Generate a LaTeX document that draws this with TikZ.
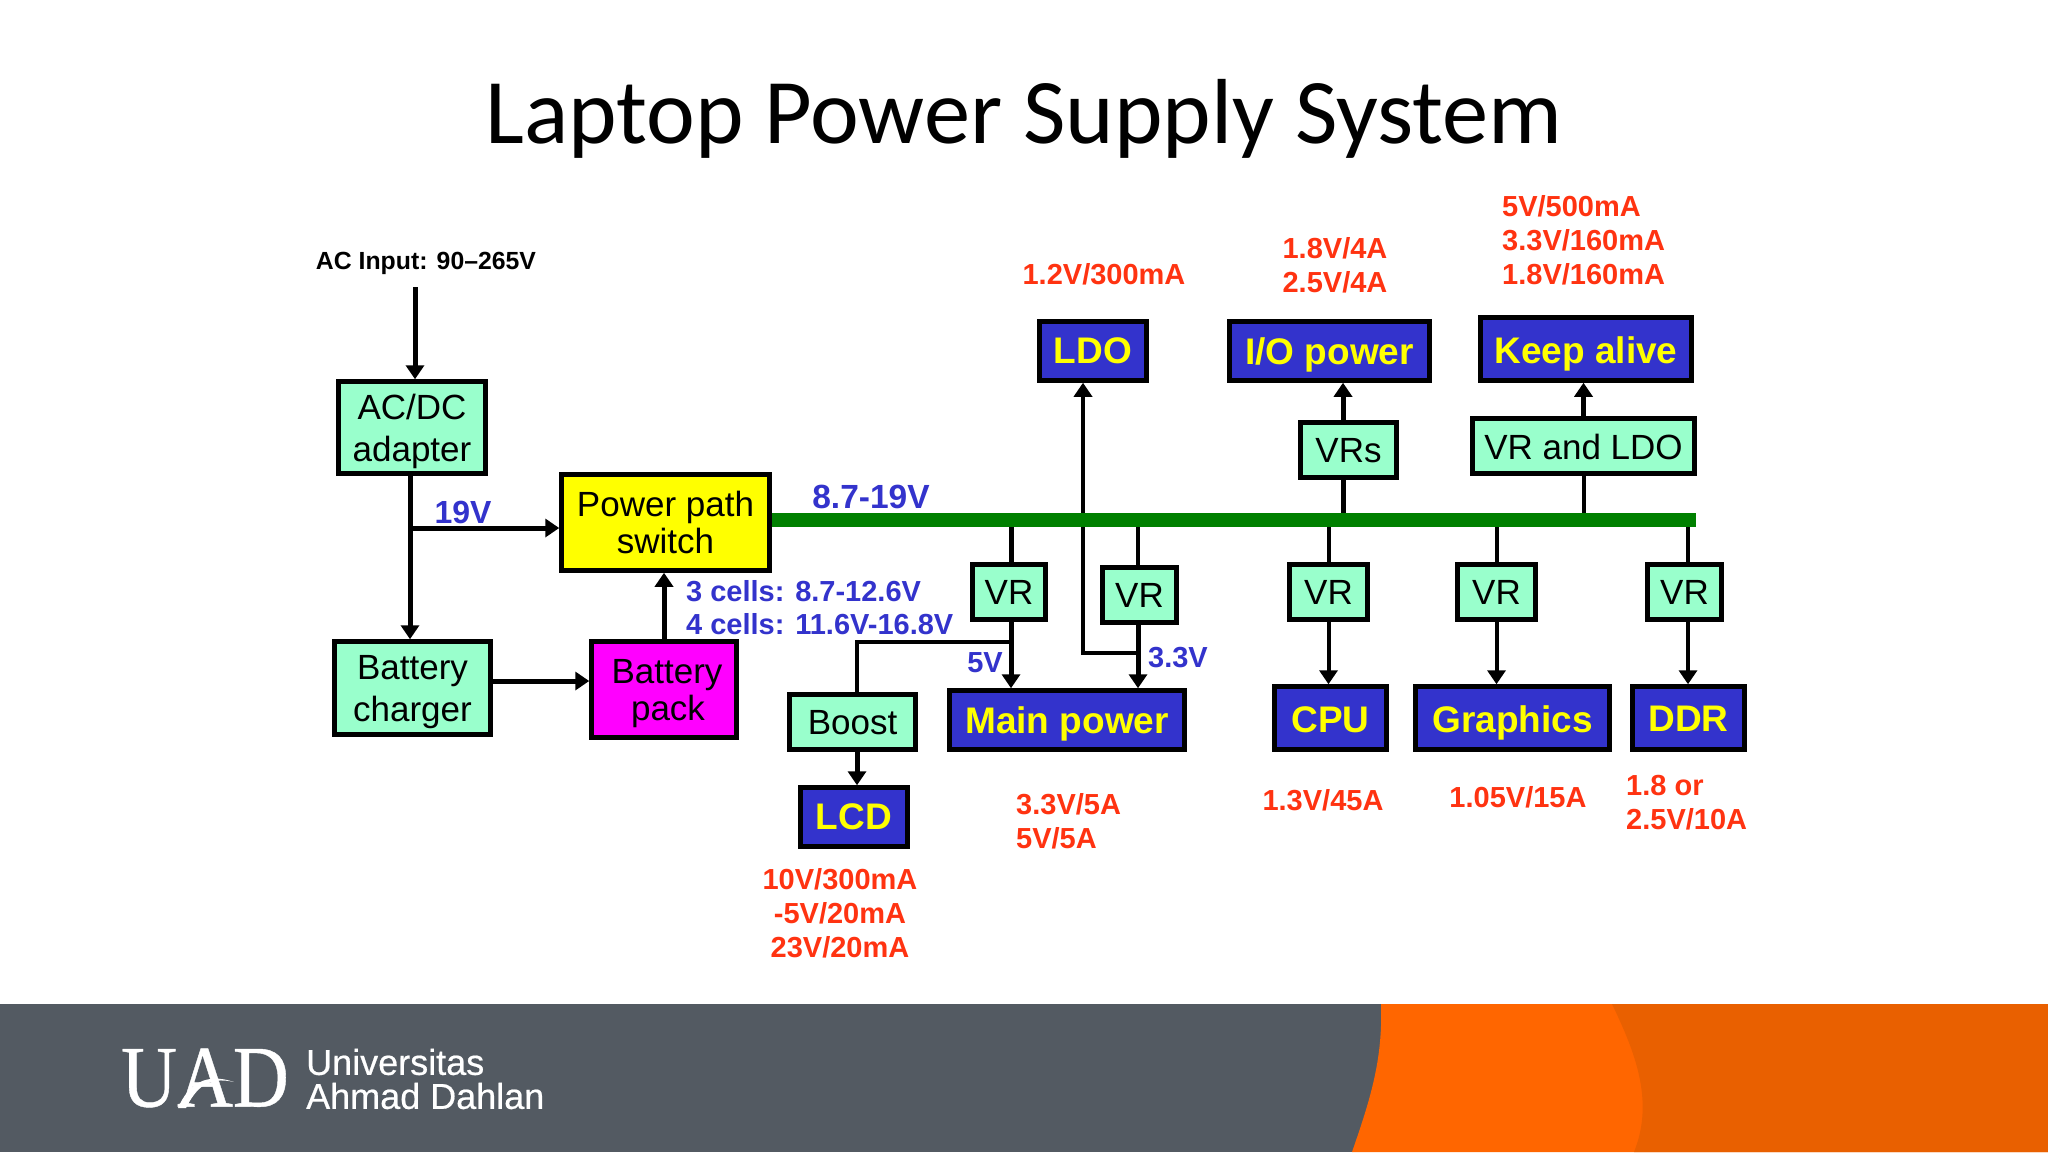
\documentclass[tikz,border=0pt]{standalone}
\usepackage{fontspec}
\setmainfont{Liberation Sans}
\newfontfamily\titlefont{Carlito}
\newfontfamily\logofont[FakeBold=0.5]{Liberation Serif}
\newfontfamily\unifont[FakeBold=0.5]{Liberation Sans}
\usetikzlibrary{arrows.meta}
\definecolor{aquabox}{HTML}{99FFCC}
\definecolor{bluebox}{HTML}{3333CC}
\definecolor{yellowbox}{HTML}{FFFF00}
\definecolor{magentabox}{HTML}{FF00FF}
\definecolor{redlabel}{HTML}{FF3311}
\definecolor{buscol}{HTML}{008000}
\definecolor{bandgrey}{HTML}{535A62}
\definecolor{orangeA}{HTML}{FF6600}
\definecolor{orangeB}{HTML}{E96000}
\tikzset{
  x=1pt,y=-1pt,
  blockbase/.style={draw=black,line width=4.5pt,inner sep=0pt,align=center,text depth=0pt},
  aqua/.style={blockbase,fill=aquabox,text=black,font=\fontsize{35}{42}\selectfont},
  power/.style={blockbase,font=\fontsize{35}{37}\selectfont,text=black},
  load/.style={blockbase,fill=bluebox,text=yellowbox,font=\bfseries\fontsize{37}{42}\selectfont},
  wire/.style={draw=black,line width=5pt},
  thinwire/.style={draw=black,line width=4pt},
  arrowed/.style={-{Triangle[length=14pt,width=18pt]}},
  redtxt/.style={text=redlabel,inner sep=0pt,font=\bfseries\fontsize{29}{34}\selectfont},
  bluetxt/.style={text=bluebox,inner sep=0pt,font=\bfseries\fontsize{29}{33}\selectfont},
}
\begin{document}
\begin{tikzpicture}
\useasboundingbox (0,0) rectangle (2048,1152);
% footer
\fill[bandgrey] (0,1004) rectangle (2048,1152);
\fill[orangeA] (1381,1004) .. controls (1383,1060) and (1370,1100) .. (1352,1152) -- (2048,1152) -- (2048,1004) -- cycle;
\fill[orangeB] (1612,1004) .. controls (1634,1050) and (1655,1100) .. (1634,1152) -- (2048,1152) -- (2048,1004) -- cycle;
\node[text=white,inner sep=0pt,font=\logofont\fontsize{88}{88}\selectfont,xscale=0.88] (uad) at (205,1078) {UAD};
\fill[white] (178,1108) .. controls (188,1085) and (205,1072) .. (234,1082) .. controls (208,1076) and (196,1088) .. (186,1108) -- cycle;
\node[text=white,inner sep=0pt,align=left,anchor=west,font=\unifont\fontsize{36}{34}\selectfont] (uni) at (306,1079) {Universitas\\Ahmad Dahlan};
% title
\node[inner sep=0pt,font=\titlefont\fontsize{92.4}{92}\selectfont] (title) at (1024,119) {Laptop Power Supply System};
% boxes
\node[aqua,minimum width=147pt,minimum height=92pt] (acdc) at (412,427.5) {AC/DC\\adapter};
\node[power,fill=yellowbox,minimum width=208pt,minimum height=96pt] (psw) at (665.5,522.5) {Power path\\switch};
\node[aqua,minimum width=156pt,minimum height=93pt] (charger) at (412.5,688) {Battery\\charger};
\node[power,fill=magentabox,minimum width=145pt,minimum height=96pt] (pack) at (664,689.5) {\hspace*{6pt}Battery\\\hspace*{8pt}pack};
\node[aqua,minimum width=126pt,minimum height=55pt] (boost) at (852.5,722) {Boost};
\node[load,minimum width=235pt,minimum height=59pt] (main) at (1067,720) {Main power};
\node[load,minimum width=107pt,minimum height=59pt] (lcd) at (854,817) {LCD};
\node[aqua,minimum width=73pt,minimum height=55pt] (vra) at (1009,592) {VR};
\node[aqua,minimum width=74pt,minimum height=55pt] (vrb) at (1139.5,595) {VR};
\node[load,minimum width=107pt,minimum height=59pt] (ldo) at (1093,351) {LDO};
\node[load,minimum width=200pt,minimum height=59pt] (io) at (1329.5,351) {I/O power};
\node[load,minimum width=211pt,minimum height=63pt] (keep) at (1586,349) {\raisebox{-2.5pt}{Keep alive}};
\node[aqua,minimum width=96pt,minimum height=55pt] (vrs) at (1348.5,450) {VRs};
\node[aqua,minimum width=222pt,minimum height=55pt] (vrldo) at (1583.5,446) {\raisebox{-2.5pt}{VR and LDO}};
\node[aqua,minimum width=78pt,minimum height=55pt] (vrc) at (1328.5,592) {VR};
\node[aqua,minimum width=78pt,minimum height=55pt] (vrd) at (1496.5,592) {VR};
\node[aqua,minimum width=74pt,minimum height=55pt] (vre) at (1684.5,592) {VR};
\node[load,minimum width=112pt,minimum height=63pt] (cpu) at (1330.5,718) {\raisebox{-2.5pt}{CPU}};
\node[load,minimum width=194pt,minimum height=63pt] (gfx) at (1512.5,718) {\raisebox{-2.5pt}{Graphics}};
\node[load,minimum width=112pt,minimum height=63pt] (ddr) at (1688.5,718) {\raisebox{-2.5pt}{DDR}};
% named free ends
\coordinate (acin) at (415,287);
\coordinate (busend) at (1696,520);
\coordinate (tap19) at (410,528);
\coordinate (tapcharge) at (500,681);
\coordinate (tapfive) at (1011,642);
\coordinate (tapthree) at (1138,653);
\coordinate (boosttop) at (857,693);
% connectors
\draw[wire,arrowed] (acin) -- (acin |- acdc.north);
\draw[wire,arrowed] (tap19 |- acdc.south) -- (tap19 |- charger.north);
\draw[wire,arrowed] (tap19) -- (psw.west |- tap19);
\draw[wire,arrowed] (charger.east |- tapcharge) -- (pack.west |- tapcharge);
\draw[wire,arrowed] (pack.north) -- (psw.south -| pack.north);
\draw[wire] (vra.north -| tapfive) -- (tapfive |- busend);
\draw[wire,arrowed] (vra.south -| tapfive) -- (main.north -| tapfive);
\draw[thinwire] (tapfive) -- (tapfive -| boosttop) -- (boosttop);
\draw[wire,arrowed] (boost.south -| boosttop) -- (lcd.north -| boosttop);
\draw[thinwire] (vrb.north -| tapthree) -- (tapthree |- busend);
\draw[wire,arrowed] (vrb.south -| tapthree) -- (main.north -| tapthree);
\draw[thinwire,arrowed] (tapthree) -- ([xshift=-10pt]ldo.south |- tapthree) -- ([xshift=-10pt]ldo.south);
\draw[wire] ([xshift=-5.5pt]vrs.south) -- ([xshift=-5.5pt]vrs.south |- busend);
\draw[wire,arrowed] ([xshift=-5.5pt]vrs.north) -- ([xshift=-5.5pt]vrs.north |- io.south);
\draw[thinwire] (vrldo.south) -- (vrldo.south |- busend);
\draw[wire,arrowed] (vrldo.north) -- (vrldo.north |- keep.south);
\draw[thinwire] (vrc.north) -- (vrc.north |- busend);
\draw[thinwire,arrowed] (vrc.south) -- (vrc.south |- cpu.north);
\draw[thinwire] (vrd.north) -- (vrd.north |- busend);
\draw[thinwire,arrowed] (vrd.south) -- (vrd.south |- gfx.north);
\draw[thinwire] ([xshift=3.5pt]vre.north) -- ([xshift=3.5pt]vre.north |- busend);
\draw[thinwire,arrowed] ([xshift=3.5pt]vre.south) -- ([xshift=3.5pt]vre.south |- ddr.north);
\draw[buscol,line width=14pt] (psw.east |- busend) -- (busend);
% labels
\node[inner sep=0pt,font=\bfseries\fontsize{24.8}{28}\selectfont] (acl) at (426,263) {AC Input: 90--265V};
\node[bluetxt,font=\bfseries\fontsize{32}{33}\selectfont] (l19) at (463,512) {19V};
\node[bluetxt,font=\bfseries\fontsize{33.5}{33}\selectfont] (lbus) at (871,497) {8.7-19V};
\node[bluetxt,align=left,anchor=west] (lcells) at (686,608) {3 cells: 8.7-12.6V\\4 cells: 11.6V-16.8V};
\node[bluetxt] (lfive) at (985,663) {5V};
\node[bluetxt] (lthree) at (1178,658) {3.3V};
\node[redtxt] (rldo) at (1104,274) {1.2V/300mA};
\node[redtxt,align=left] (rio) at (1335,265) {1.8V/4A\\2.5V/4A};
\node[redtxt,align=left,anchor=west] (rkeep) at (1502,240) {5V/500mA\\3.3V/160mA\\1.8V/160mA};
\node[redtxt,align=center] (rlcd) at (840,913) {10V/300mA\\-5V/20mA\\23V/20mA};
\node[redtxt,align=left,anchor=west] (rmain) at (1016,821) {3.3V/5A\\5V/5A};
\node[redtxt] (rcpu) at (1323,800) {1.3V/45A};
\node[redtxt] (rgfx) at (1518,797) {1.05V/15A};
\node[redtxt,align=left,anchor=west] (rddr) at (1626,803) {1.8 or\\2.5V/10A};
\end{tikzpicture}
\end{document}
